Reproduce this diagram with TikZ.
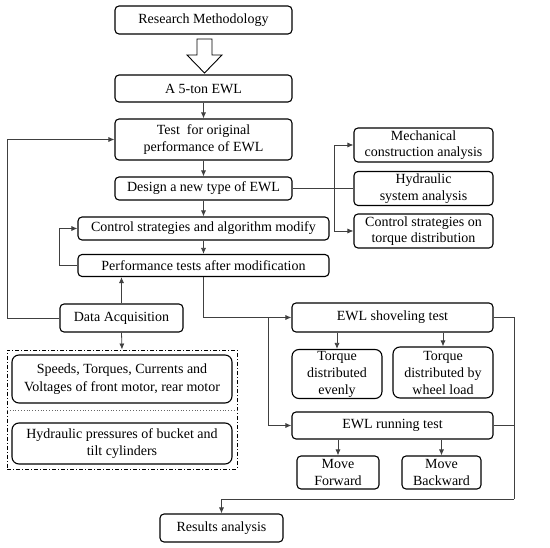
\documentclass[tikz,border=0pt]{standalone}
\usepackage{fontspec}
\setmainfont{Liberation Serif}
\usetikzlibrary{arrows.meta}
\begin{document}
\begin{tikzpicture}[x=1pt,y=-1pt,
  box/.style={draw=black,line width=1.1pt,rounded corners=4pt,align=center,inner sep=1pt,
    font=\fontsize{14}{17.5}\selectfont},
  conn/.style={draw=black!75,line width=0.8pt},
  arr/.style={conn,-{Latex[length=6pt,width=5pt]}}]
\useasboundingbox (0,0) rectangle (550,548);
% nodes
\node[box,minimum width=177pt,minimum height=28pt] (rm) at (203.5,20) {Research Methodology};
\node[box,minimum width=177pt,minimum height=27pt] (ewl) at (203.5,88.5) {A 5-ton EWL};
\node[box,minimum width=177pt,minimum height=41pt] (test) at (203.5,139.5) {Test\ \ for\ original\\performance of EWL};
\node[box,minimum width=177pt,minimum height=23pt] (design) at (203.5,188.5) {Design a new type of EWL};
\node[box,minimum width=251pt,minimum height=23pt] (ctrl) at (203.5,228.5) {Control strategies and algorithm modify};
\node[box,minimum width=251pt,minimum height=22pt] (perf) at (203.5,265.5) {Performance tests after modification};
\node[box,minimum width=139pt,minimum height=34pt,font=\fontsize{14}{16.5}\selectfont] (mech) at (423.5,145) {Mechanical\\construction analysis};
\node[box,minimum width=139pt,minimum height=34pt,font=\fontsize{14}{16.5}\selectfont] (hyd) at (423.5,188.5) {Hydraulic\\system analysis};
\node[box,minimum width=139pt,minimum height=34pt,font=\fontsize{14}{16.5}\selectfont] (cstr) at (423.5,231) {Control strategies\ on\\torque distribution};
\node[box,minimum width=123pt,minimum height=28pt] (da) at (121.5,318) {Data Acquisition};
\node[draw=black,line width=0.9pt,dash pattern=on 4pt off 2pt on 1pt off 2pt,
  minimum width=230pt,minimum height=119pt,inner sep=0pt] (grp) at (122,409.5) {};
\node[box,rounded corners=7pt,minimum width=220pt,minimum height=48pt] (speeds) at (122,379) {Speeds, Torques, Currents and\\Voltages of front motor, rear motor};
\node[box,rounded corners=7pt,minimum width=220pt,minimum height=41pt] (hp) at (122,443.5) {Hydraulic pressures of bucket and\\tilt cylinders};
\coordinate (sepl) at (7,410);
\coordinate (sepr) at (237,410);
\draw[black!60,dotted,line width=0.8pt] (sepl) -- (sepr);
\node[box,minimum width=201pt,minimum height=29pt] (shov) at (392.5,317.5) {EWL shoveling test};
\node[box,rounded corners=7pt,minimum width=90pt,minimum height=49pt,font=\fontsize{14}{17}\selectfont] (tev) at (337,374) {Torque\\distributed\\evenly};
\node[box,rounded corners=7pt,minimum width=100pt,minimum height=51pt,font=\fontsize{14}{17}\selectfont] (twl) at (443,372.5) {Torque\\distributed by\\wheel load};
\node[box,minimum width=201pt,minimum height=27pt] (run) at (392.5,425.5) {EWL running test};
\node[box,minimum width=82pt,minimum height=33pt,font=\fontsize{14}{17}\selectfont] (mf) at (338,472.5) {Move\\Forward};
\node[box,minimum width=79pt,minimum height=33pt,font=\fontsize{14}{17}\selectfont] (mb) at (441.5,472.5) {Move\\Backward};
\node[box,minimum width=123pt,minimum height=28pt] (res) at (221.5,528) {Results analysis};
% hollow arrow
\draw[black,line width=0.9pt,fill=white] (197,39) -- (212,39) -- (212,55) -- (222,55) -- (204.5,73) -- (187,55) -- (197,55) -- cycle;
% connectors
\draw[arr] (ewl.south) -- (test.north);
\draw[arr] (test.south) -- (design.north);
\draw[arr] (design.south) -- (ctrl.north);
\draw[arr] (ctrl.south) -- (perf.north);
\draw[conn] (design.east) -- (hyd.west);
\coordinate (vmid) at (334,188.5);
\draw[arr] (vmid) |- (mech.west);
\draw[arr] (vmid) |- (cstr.west);
\coordinate (lx) at (7,318);
\draw[arr] (da.west) -- (lx) |- (test.west);
\coordinate (lx2) at (59,265.5);
\draw[arr] (perf.west) -- (lx2) |- (ctrl.west);
\draw[arr] (da.north) -- (da.north |- perf.south);
\draw[arr] (da.south) -- (grp.north);
\draw[arr] (perf.south) |- (shov.west);
\coordinate (br) at (268,317.5);
\draw[arr] (br) |- (run.west);
\draw[arr] (tev.north |- shov.south) -- (tev.north);
\draw[arr] (twl.north |- shov.south) -- (twl.north);
\draw[arr] (mf.north |- run.south) -- (mf.north);
\draw[arr] (mb.north |- run.south) -- (mb.north);
\coordinate (rtop) at (514,317.5);
\coordinate (rbot) at (514,499);
\draw[conn] (shov.east) -- (rtop) -- (rbot);
\draw[conn] (run.east) -- (run.east -| rtop);
\draw[arr] (rbot) -| (res.north);
\end{tikzpicture}
\end{document}
